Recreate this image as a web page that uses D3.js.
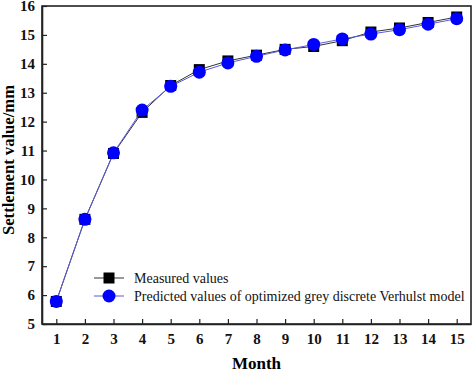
<!DOCTYPE html>
<html>
<head>
<meta charset="utf-8">
<script src="https://cdn.jsdelivr.net/npm/d3@7"></script>
<style>
  body { margin: 0; background: #fff; }
  text { font-family: "Liberation Serif", "Times New Roman", serif; }
</style>
</head>
<body>
<script>
// chart data
var months = [1, 2, 3, 4, 5, 6, 7, 8, 9, 10, 11, 12, 13, 14, 15];
var measured = [5.78, 8.62, 10.9, 12.32, 13.25, 13.8, 14.1, 14.3, 14.5, 14.6, 14.8, 15.1, 15.24, 15.43, 15.62];
var predicted = [5.78, 8.62, 10.92, 12.4, 13.22, 13.71, 14.03, 14.26, 14.48, 14.67, 14.86, 15.03, 15.18, 15.37, 15.56];
var yTicks = [5, 6, 7, 8, 9, 10, 11, 12, 13, 14, 15, 16];
var seriesNames = ["Measured values", "Predicted values of optimized grey discrete Verhulst model"];

var W = 474, H = 372;
var m = {left: 42, top: 6, right: 3, bottom: 48};

var svg = d3.select("body").append("svg")
    .attr("width", W)
    .attr("height", H);

var x = d3.scaleLinear().domain([0.5, 15.5]).range([m.left, W - m.right]);
var y = d3.scaleLinear().domain([5, 16]).range([H - m.bottom, m.top]);

// frame
svg.append("rect")
    .attr("x", m.left)
    .attr("y", m.top)
    .attr("width", W - m.right - m.left)
    .attr("height", H - m.bottom - m.top)
    .style("fill", "none")
    .style("stroke", "#222")
    .style("stroke-width", 1.6);

// axes (ticks point inward)
var xAxis = svg.append("g")
    .attr("transform", "translate(0," + (H - m.bottom) + ")")
    .call(d3.axisBottom(x).tickValues(months).tickSizeInner(-5).tickSizeOuter(0).tickPadding(9));

var yAxis = svg.append("g")
    .attr("transform", "translate(" + m.left + ",0)")
    .call(d3.axisLeft(y).tickValues(yTicks).tickSizeInner(-5).tickSizeOuter(0).tickPadding(7));

[xAxis, yAxis].forEach(function (a) {
    a.attr("font-family", null);
    a.select(".domain").style("stroke", "#222").style("stroke-width", 1.6);
    a.selectAll(".tick line").style("stroke", "#222").style("stroke-width", 1.2);
    a.selectAll(".tick text")
        .style("font-family", "'Liberation Serif', 'Times New Roman', serif")
        .style("font-weight", "bold")
        .style("font-size", "15px")
        .style("fill", "#111");
});

// axis titles
svg.append("text")
    .attr("x", (m.left + W - m.right) / 2)
    .attr("y", 369)
    .attr("text-anchor", "middle")
    .style("font-weight", "bold")
    .style("font-size", "17px")
    .text("Month");

svg.append("text")
    .attr("transform", "translate(13.5,160) rotate(-90)")
    .attr("text-anchor", "middle")
    .attr("textLength", 150)
    .attr("lengthAdjust", "spacingAndGlyphs")
    .style("font-weight", "bold")
    .style("font-size", "16px")
    .text("Settlement value/mm");

var line = d3.line()
    .x(function (d) { return x(d[0]); })
    .y(function (d) { return y(d[1]); });

var mData = months.map(function (d, i) { return [d, measured[i]]; });
var pData = months.map(function (d, i) { return [d, predicted[i]]; });

// measured series
svg.append("path")
    .datum(mData)
    .attr("d", line)
    .style("fill", "none")
    .style("stroke", "#333")
    .style("stroke-width", 1);

svg.selectAll(".sq")
    .data(mData)
    .enter().append("rect")
    .attr("class", "sq")
    .attr("x", function (d) { return x(d[0]) - 5.5; })
    .attr("y", function (d) { return y(d[1]) - 5.5; })
    .attr("width", 11)
    .attr("height", 11)
    .style("fill", "#000");

// predicted series
svg.append("path")
    .datum(pData)
    .attr("d", line)
    .style("fill", "none")
    .style("stroke", "#5a5ad8")
    .style("stroke-width", 1);

svg.selectAll(".dot")
    .data(pData)
    .enter().append("circle")
    .attr("class", "dot")
    .attr("cx", function (d) { return x(d[0]); })
    .attr("cy", function (d) { return y(d[1]); })
    .attr("r", 6.5)
    .style("fill", "#0000ff");

// legend
var legend = svg.append("g");
var legY = [278, 296];

legend.selectAll("line")
    .data(legY)
    .enter().append("line")
    .attr("x1", 94)
    .attr("x2", 124)
    .attr("y1", function (d) { return d; })
    .attr("y2", function (d) { return d; })
    .style("stroke", function (d, i) { return i == 0 ? "#333" : "#5a5ad8"; })
    .style("stroke-width", 1);

legend.append("rect")
    .attr("x", 109 - 5.5)
    .attr("y", legY[0] - 5.5)
    .attr("width", 11)
    .attr("height", 11)
    .style("fill", "#000");

legend.append("circle")
    .attr("cx", 109)
    .attr("cy", legY[1])
    .attr("r", 6.5)
    .style("fill", "#0000ff");

legend.selectAll("text")
    .data(seriesNames)
    .enter().append("text")
    .attr("x", 134)
    .attr("y", function (d, i) { return legY[i] + 5; })
    .style("font-size", "14px")
    .style("fill", "#111")
    .text(function (d) { return d; });
</script>
</body>
</html>
